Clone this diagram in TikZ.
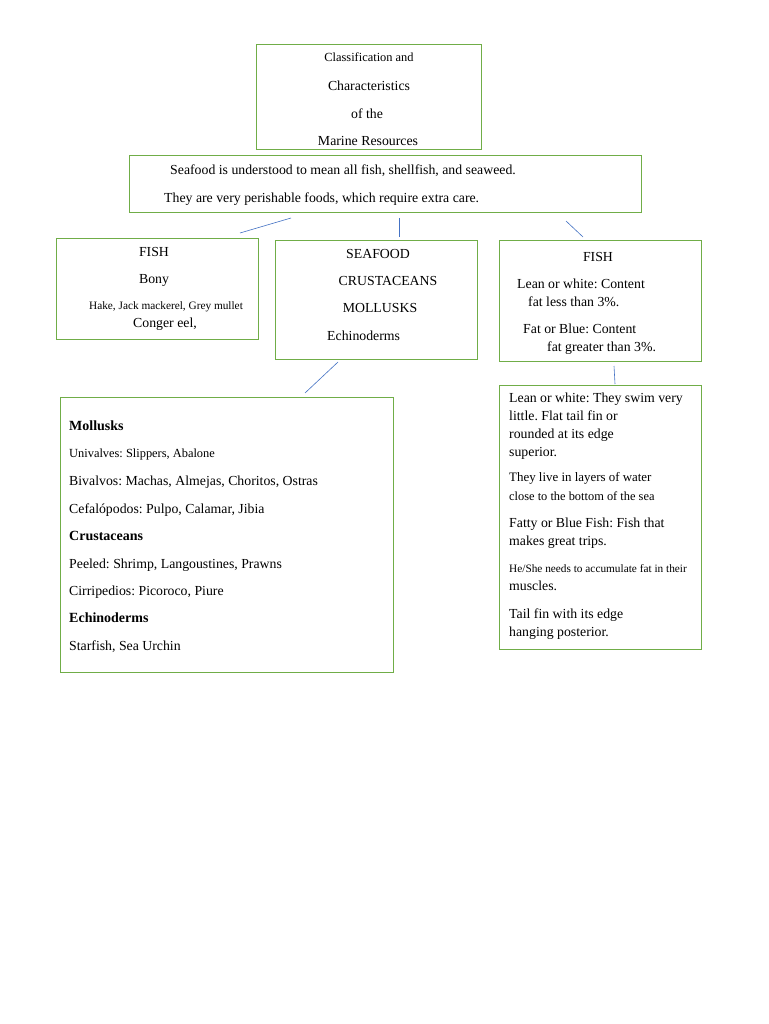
\documentclass[tikz,border=0pt]{standalone}
\usepackage{fontspec}
\setmainfont{Liberation Serif}
\frenchspacing
\definecolor{boxgreen}{HTML}{70AD47}
\definecolor{linkblue}{HTML}{4472C4}
\tikzset{
  box/.style={draw=boxgreen, line width=1.2pt, inner sep=0pt, anchor=north west},
  lnk/.style={draw=linkblue, line width=0.6pt},
  tx/.style={inner sep=0pt, text height=0.7em, text depth=0.25em, yshift=-2.5pt, font=\fontsize{13.8}{16}\selectfont},
  txm/.style={tx, font=\fontsize{12.9}{15}\selectfont},
  txs/.style={tx, font=\fontsize{12.4}{14}\selectfont},
  txxs/.style={tx, font=\fontsize{11.3}{13}\selectfont},
  txb/.style={tx, font=\fontsize{14}{16}\selectfont\bfseries},
}
\begin{document}
\begin{tikzpicture}[x=1pt,y=-1pt]
\useasboundingbox[fill=white] (0,0) rectangle (768,1024);
% boxes
\node[box, minimum width=225, minimum height=105] (title) at (256,44) {};
\node[box, minimum width=512, minimum height=57] (intro) at (129,155) {};
\node[box, minimum width=202, minimum height=101] (fishL) at (56,238) {};
\node[box, minimum width=202, minimum height=119] (seaM) at (275,240) {};
\node[box, minimum width=202, minimum height=121] (fishR) at (499,240) {};
\node[box, minimum width=333, minimum height=275] (detL) at (60,397) {};
\node[box, minimum width=202, minimum height=264] (detR) at (499,385) {};
% title text
\node[txs] (t1) at (369,57) {Classification and};
\node[tx] (t2) at (369,86) {Characteristics};
\node[tx] (t3) at (367,114) {of the};
\node[tx] (t4) at (368,141) {Marine Resources};
% intro text
\node[tx, anchor=west] (i1) at (170,170) {Seafood is understood to mean all fish, shellfish, and seaweed.};
\node[tx, anchor=west] (i2) at (164,198) {They are very perishable foods, which require extra care.};
% left fish
\node[tx] (f1) at (154,252) {FISH};
\node[tx] (f2) at (154,279) {Bony};
\node[txxs] (f3) at (166,305) {Hake, Jack mackerel, Grey mullet};
\node[tx] (f4) at (165,323) {Conger eel,};
% middle seafood
\node[tx] (s1) at (378,254) {SEAFOOD};
\node[tx] (s2) at (388,281) {CRUSTACEANS};
\node[tx] (s3) at (380,308) {MOLLUSKS};
\node[tx, anchor=west] (s4) at (327,336) {Echinoderms};
% right fish
\node[tx] (r1) at (598,257) {FISH};
\node[tx, anchor=west] (r2) at (517,284) {Lean or white: Content};
\node[tx, anchor=west] (r3) at (528,302) {fat less than 3\%.};
\node[tx, anchor=west] (r4) at (523,329) {Fat or Blue: Content};
\node[tx, anchor=west] (r5) at (547,347) {fat greater than 3\%.};
% bottom left details
\node[txb, anchor=west] (d1) at (69,426) {Mollusks};
\node[txs, anchor=west] (d2) at (69,453) {Univalves: Slippers, Abalone};
\node[tx, anchor=west] (d3) at (69,481) {Bivalvos: Machas, Almejas, Choritos, Ostras};
\node[tx, anchor=west] (d4) at (69,509) {Cefalópodos: Pulpo, Calamar, Jibia};
\node[txb, anchor=west] (d5) at (69,536) {Crustaceans};
\node[tx, anchor=west] (d6) at (69,564) {Peeled: Shrimp, Langoustines, Prawns};
\node[tx, anchor=west] (d7) at (69,591) {Cirripedios: Picoroco, Piure};
\node[txb, anchor=west] (d8) at (69,618) {Echinoderms};
\node[tx, anchor=west] (d9) at (69,646) {Starfish, Sea Urchin};
% bottom right details
\node[tx, anchor=west] (e1) at (509,398) {Lean or white: They swim very};
\node[tx, anchor=west] (e2) at (509,416) {little. Flat tail fin or};
\node[tx, anchor=west] (e3) at (509,434) {rounded at its edge};
\node[tx, anchor=west] (e4) at (509,452) {superior.};
\node[txm, anchor=west] (e5) at (509,477) {They live in layers of water};
\node[txs, anchor=west] (e6) at (509,496) {close to the bottom of the sea};
\node[tx, anchor=west] (e7) at (509,523) {Fatty or Blue Fish: Fish that};
\node[tx, anchor=west] (e8) at (509,541) {makes great trips.};
\node[txxs, anchor=west] (e9) at (509,568) {He/She needs to accumulate fat in their};
\node[tx, anchor=west] (e10) at (509,586) {muscles.};
\node[tx, anchor=west] (e11) at (509,614) {Tail fin with its edge};
\node[tx, anchor=west] (e12) at (509,632) {hanging posterior.};
% connectors
\coordinate (a1) at (291,218); \coordinate (a2) at (240,233);
\coordinate (b1) at (399,218); \coordinate (b2) at (399,237);
\coordinate (c1) at (566,221); \coordinate (c2) at (583,237);
\coordinate (g1) at (338,362); \coordinate (g2) at (305,393);
\coordinate (h1) at (614,366); \coordinate (h2) at (615,384);
\draw[lnk] (a1) -- (a2);
\draw[lnk] (b1) -- (b2);
\draw[lnk] (c1) -- (c2);
\draw[lnk] (g1) -- (g2);
\draw[lnk] (h1) -- (h2);
\end{tikzpicture}
\end{document}
